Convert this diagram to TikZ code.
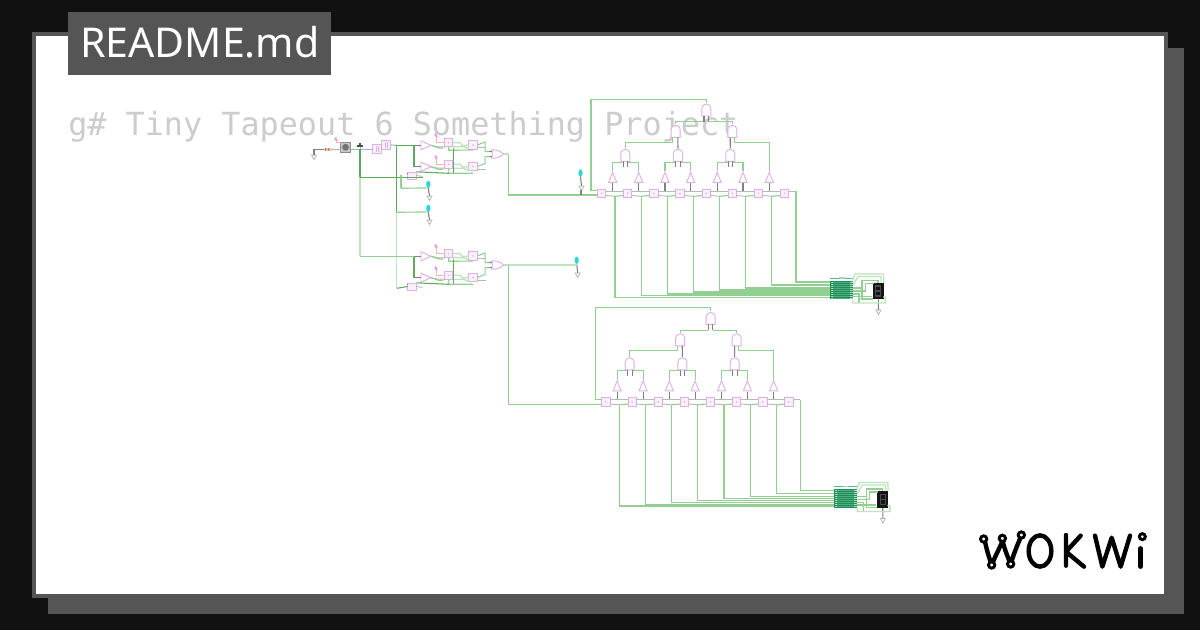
\documentclass[tikz,border=0pt]{standalone}
\usepackage{fontspec}
\newfontfamily\tabfont{Noto Sans}
\newfontfamily\monofont{DejaVu Sans Mono}
\usetikzlibrary{calc,shapes.geometric}
\definecolor{bgdark}{HTML}{111111}
\definecolor{panelgray}{HTML}{555555}
\definecolor{titlegray}{HTML}{CCCCCC}
\definecolor{wirecol}{HTML}{93CF93}
\definecolor{wirelight}{HTML}{BFE3BF}
\definecolor{wiredark}{HTML}{5FA85F}
\definecolor{wiregray}{HTML}{B8B8B8}
\definecolor{wiredgray}{HTML}{808080}
\definecolor{gatepink}{HTML}{E0B0E8}
\definecolor{dffpink}{HTML}{FBEFFC}
\definecolor{boardgreen}{HTML}{1B8F55}
\definecolor{ledcyan}{HTML}{2AD6D6}
\tikzset{
  wire/.style={draw=wirecol,line width=0.85pt},
  wirel/.style={draw=wirelight,line width=1.05pt},
  wired/.style={draw=wiredark,line width=0.8pt},
  wireg/.style={draw=wiregray,line width=0.7pt},
  wiredg/.style={draw=wiredgray,line width=0.8pt},
  redwire/.style={draw=red!30!white,line width=0.6pt},
  gateline/.style={draw=gatepink,line width=0.7pt,fill=white},
  anchorbox/.style={inner sep=0pt,outer sep=0pt,minimum width=#1},
  dffbox/.style={draw=gatepink,fill=dffpink,line width=0.6pt,inner sep=0pt,outer sep=0pt,minimum width=6pt,minimum height=6pt},
  bigdff/.style={dffbox,minimum width=6.2pt,minimum height=6.2pt},
  logoline/.style={draw=black,line width=3.3pt,line cap=round,line join=round},
  logodot/.style={draw=black,line width=2.2pt,fill=white},
}
% AND gate, apex up
\newcommand{\andg}[3]{%
  \node[anchorbox=6.75pt,minimum height=9pt] (#1) at (#2,#3) {};
  \begin{scope}[shift={(#2,#3)}]
    \path[gateline] (-4.5,6) -- (-4.5,-1) .. controls (-4.5,-4.5) and (-2,-6) .. (0,-6)
      .. controls (2,-6) and (4.5,-4.5) .. (4.5,-1) -- (4.5,6) -- cycle;
  \end{scope}}
% buffer, apex up
\newcommand{\bufu}[3]{%
  \node[anchorbox=6pt,minimum height=7.5pt] (#1) at (#2,#3) {};
  \begin{scope}[shift={(#2,#3)}]
    \path[gateline] (-4,5) -- (4,5) -- (0,-5) -- cycle;
  \end{scope}}
% buffer, apex right
\newcommand{\bufr}[3]{%
  \node[anchorbox=7.5pt,minimum height=6pt] (#1) at (#2,#3) {};
  \begin{scope}[shift={(#2,#3)}]
    \path[gateline] (-5,-4.5) -- (-5,4.5) -- (5,0) -- cycle;
  \end{scope}}
% OR gate, apex right
\newcommand{\org}[3]{%
  \node[anchorbox=9pt,minimum height=6.4pt] (#1) at (#2,#3) {};
  \begin{scope}[shift={(#2,#3)}]
    \path[gateline] (-6,-4.2) .. controls (-1,-4.5) and (3,-3) .. (6,0)
      .. controls (3,3) and (-1,4.5) .. (-6,4.2) .. controls (-4.5,1.5) and (-4.5,-1.5) .. (-6,-4.2) -- cycle;
  \end{scope}}
% flip-flop
\newcommand{\dffn}[3]{%
  \node[bigdff] (#1) at (#2,#3) {};
  \fill[gatepink] (#2,#3) circle (0.9);}
% ground symbol
\newcommand{\gnd}[3]{%
  \node[inner sep=0pt,outer sep=0pt,minimum size=3pt] (#1) at (#2,#3) {};
  \path[draw=wiregray,line width=0.6pt,fill=white] (#2-2.5,#3-2) -- (#2+2.5,#3-2) -- (#2,#3+2.5) -- cycle;}
% LED
\newcommand{\led}[3]{%
  \node[fill=ledcyan,draw=ledcyan!70!white,line width=0.2pt,ellipse,inner sep=0pt,outer sep=0pt,minimum width=3pt,minimum height=5.4pt] (#1) at (#2,#3) {};}
% probe
\newcommand{\probe}[3]{%
  \node[inner sep=0pt,outer sep=0pt,minimum size=2pt] (#1) at (#2,#3) {};
  \path[draw=violet!45!magenta!60!white,line width=0.45pt] (#2,#3-3) -- (#2,#3+1.5) (#2-1.5,#3-1.5) -- (#2+1.5,#3+0.5);}

% one half of the input logic
\newcommand{\logic}[2]{%
 \begin{scope}[shift={(0,#2)}]
  \bufr{#1ba}{426}{145.3}
  \bufr{#1bb}{426}{166.7}
  \dffn{#1p}{448.7}{142.7}
  \dffn{#1q}{448.7}{164.3}
  \dffn{#1r}{473}{145}
  \dffn{#1s}{473}{166.5}
  \org{#1o}{497.5}{154}
  \node[bigdff,minimum height=5.2pt,minimum width=6.5pt] (#1m) at (412,175.5) {};
  \probe{#1pa}{436}{136}
  \probe{#1pb}{436}{158}
  \coordinate (#1t) at (414,145.3);
  \coordinate (#1u) at (414,166.7);
  \coordinate (#1ml) at (449,173.3);
  \coordinate (#1v) at (453.7,173.3);
  \draw[wiredg] (#1t) -- (#1ba.west);
  \draw[wiredg] (#1u) -- (#1bb.west);
  \draw[wired] (#1t) -- (#1u);
  \draw[redwire] (#1pa.south) |- (#1p.west);
  \draw[redwire] (#1pb.south) |- (#1q.west);
  \draw[wireg] (#1ba.east) -- ++(7,1.5) -- ++(7,0);
  \draw[wire] (#1ba.east) -- ++(8,2.7) -- ++(4,0);
  \draw[wireg] (#1bb.east) -- ++(7,1.5) -- ++(7,0);
  \draw[wire] (#1bb.east) -- ++(8,2.7) -- ++(4,0);
  \draw[wirel] (#1p.east) -- ++(7,0) -- ++(3,3) -- (#1r.west);
  \draw[wirel] ([yshift=-3pt]#1p.east) -- ++(11,0) -- ++(3,1.5) -- ([yshift=-2pt]#1r.west);
  \draw[wirel] (#1q.east) -- ++(7,0) -- ++(3,3) -- (#1s.west);
  \draw[wirel] ([yshift=-3pt]#1q.east) -- ++(11,0) -- ++(3,1.5) -- ([yshift=-2pt]#1s.west);
  \draw[wire] (#1r.east) -- ++(8,-3) -- ++(0,9.5) -| ([yshift=2pt]#1o.west);
  \draw[wireg] ([yshift=-2.2pt]#1r.east) -- ++(9,0);
  \draw[wire] (#1s.east) -- ++(8,-3) |- ([yshift=-2pt]#1o.west);
  \draw[wireg] ([yshift=-2.2pt]#1s.east) -- ++(9,0);
  \draw[wiredg] ([yshift=2pt]#1o.west) -- ++(-3,0);
  \draw[wiredg] ([yshift=-2pt]#1o.west) -- ++(-3,0);
  \draw[wire] (#1p.south) -- ++(0,3.5) -- (473,150);
  \draw[wire] (#1q.south) -- (#1ml) -- (473,173.3);
  \draw[wired] (#1m.north east) ++(0,-0.2) -- (#1ml);
  \draw[wired] (453.7,148) -- (#1v);
  \draw[wiredg] (407,173.3) -- (#1m.west |- #1ml);
  \draw[wireg] (#1m.east) -- ++(6,1);
 \end{scope}}

% one 8-bit chain with its display
\newcommand{\chain}[3]{%
 \begin{scope}[shift={(#2,#3)}]
  \foreach \k in {0,...,7}{
    \pgfmathsetmacro{\xx}{601.5+26.15*\k}
    \dffn{#1d\k}{\xx}{193.4}
  }
  \foreach \k/\bx in {0/612.7,1/638.7,2/665,3/690.7,4/717.2,5/743,6/769.3}{
    \bufu{#1b\k}{\bx}{177.3}
    \coordinate (#1bs\k) at (\bx,191);
    \draw[wiredg] (#1b\k.south) ++(0,1) -- (#1bs\k);
  }
  \andg{#1ga}{625.3}{155.3}
  \andg{#1gb}{678}{155.3}
  \andg{#1gc}{730.3}{155.3}
  \andg{#1ha}{675.7}{131.3}
  \andg{#1hb}{732.3}{131.3}
  \andg{#1top}{706.3}{110}
  % buffers into first AND row
  \draw[wire] (#1b0.north) ++(0,-1) -- ++(0,-9) -- ++(9.4,0);
  \draw[wire] (#1b1.north) ++(0,-1) -- ++(0,-9) -- ++(-10.4,0);
  \draw[wire] (#1b2.north) ++(0,-1) -- ++(0,-9) -- ++(10.5,0);
  \draw[wire] (#1b3.north) ++(0,-1) -- ++(0,-9) -- ++(-10.2,0);
  \draw[wire] (#1b4.north) ++(0,-1) -- ++(0,-9) -- ++(10.6,0);
  \draw[wire] (#1b5.north) ++(0,-1) -- ++(0,-9) -- ++(-10.2,0);
  \foreach \g in {a,b,c}{
    \draw[wiredg] (#1g\g.south) ++(-2.2,0) -- ++(0,6);
    \draw[wiredg] (#1g\g.south) ++(2.4,0) -- ++(0,6);
  }
  % first AND row into second
  \coordinate (#1j1) at (672.8,142.4);
  \coordinate (#1j2) at (734.4,142.4);
  \draw[wire] (#1ga.north) ++(0,-1) |- (#1j1) -- (672.8,137.5);
  \draw[wiredg] (#1gb.north) ++(0,-1) -- ([xshift=1.6pt]#1ha.south);
  \draw[wiredg] (#1gc.north) ++(0,-1) -- (730.2,137.5);
  \draw[wire] (#1b6.north) ++(0,-1) |- (#1j2) -- (734.4,137.5);
  % second AND row into top
  \coordinate (#1j3) at (704,121.7);
  \coordinate (#1j4) at (708.4,121.7);
  \draw[wire] (#1ha.north) ++(0,-1) |- (#1j3);
  \draw[wire] (#1hb.north) ++(0,-1) |- (#1j4);
  \draw[wiredg] (#1j3) -- (704,116);
  \draw[wiredg] (#1j4) -- (708.4,116);
  % feedback
  \coordinate (#1f) at (591,99.3);
  \draw[wire] (#1top.north) ++(0,-1) |- (#1f) -- (591,190.7) -- (#1d0.west |- 0,190.7);
  % chain links and drops to decoder
  \foreach \k/\n in {0/1,1/2,2/3,3/4,4/5,5/6,6/7}{
    \pgfmathsetmacro{\dx}{601.5+26.15*\k+13.5}
    \coordinate (#1dr\k) at (\dx,196.3);
    \draw[wireg] (#1d\k.east) ++(0,-2.1) -- ($(#1d\n.west)+(0,-2.1)$);
    \draw[wireg] (#1d\k.east) ++(0,2.1) -- (#1dr\k);
    \draw[wire] (#1dr\k) -- ($(#1d\n.west)+(0,2.1)$);
  }
  \coordinate (#1dr7) at (796,191.3);
  \draw[wireg] (#1d7.east) ++(0,-2.1) -- (#1dr7);
  % decoder board
  \node[fill=boardgreen,inner sep=0pt,outer sep=0pt,minimum width=17.3pt,minimum height=14.2pt] (#1dec) at (841.5,290) {};
  \foreach \yy in {282,284,...,298}{
    \draw[draw=white,opacity=.25,line width=0.45pt] (831.5,\yy) -- (851.5,\yy);
    \draw[draw=white,opacity=.6,line width=0.5pt] (831,\yy) -- (833,\yy) (850,\yy) -- (852.5,\yy);
  }
  \draw[draw=boardgreen!70!white,line width=0.5pt] (830,278.2) -- (853,278.2);
  \fill[white!60!boardgreen] (839,277.4) rectangle (845,278.6);
  % display
  \node[fill=black!92!white,inner sep=0pt,outer sep=0pt,minimum width=8pt,minimum height=12.4pt] (#1disp) at (878.3,291) {};
  \draw[draw=white!30!black,line width=0.8pt,line join=round] (875.8,286) rectangle (880.8,296) (875.8,291) -- (880.8,291);
  \gnd{#1gr}{878.5}{312}
  \draw[wiredg] (#1disp.south) -- (#1gr.north);
  % wires from chain to decoder
  \foreach \k/\yy in {0/297.5,1/295.7,2/294,3/292,4/290,5/288,6/285,7/282}{
    \coordinate (#1pin\k) at (830,\yy);
    \draw[wire] (#1dr\k) |- (#1pin\k);
  }
  % decoder to display
  \coordinate (#1a1) at (855,274);
  \coordinate (#1a2) at (883.5,274);
  \coordinate (#1a3) at (858,276.5);
  \coordinate (#1a4) at (881,276.5);
  \coordinate (#1a5) at (862,280.5);
  \coordinate (#1a6) at (878,280.5);
  \coordinate (#1a7) at (865.5,283.5);
  \coordinate (#1a8) at (885.5,303);
  \coordinate (#1a9) at (853,303);
  \draw[wirel] (#1dec.north east) ++(0,-2) -- (853,279) -- (#1a1) -- (#1a2) -- (#1disp.north east);
  \draw[wirel] (853,285) -- (#1a3) -- (#1a4) -- (881,282.7);
  \draw[wire] (853,288) -- (#1a5 |- 0,288) -- (#1a5) -- (#1a6) -- (878,282.7);
  \draw[wire] (853,291) -- (#1a7 |- 0,291) -- (#1a7) -- (873.5,283.5);
  \draw[wire] (853,294) -- (859,294) -- (859,303);
  \draw[wire] (853,296.5) -- (872,296.5);
  \draw[wirel] (#1dec.south east) -- (#1a9) -- (#1a8) -- (885.5,297) -- (883,297);
  \draw[wire] (862,288) -- (862,299) -- (873,299);
 \end{scope}}

\begin{document}
\begin{tikzpicture}[x=0.75pt,y=-0.75pt]
  \useasboundingbox (0,0) rectangle (1200,630);
  \fill[bgdark] (0,0) rectangle (1200,630);
  \fill[panelgray] (48,48) rectangle (1184,614);
  \fill[panelgray] (32,32) rectangle (1168,598);
  \fill[white] (36,36) rectangle (1164,594);
  \fill[panelgray] (68,12) rectangle (331,75);
  \node[inner sep=0pt,anchor=base west,text=white,font=\tabfont\fontsize{30.8pt}{36pt}\selectfont] (tab) at (80,57.5) {README.md};
  \node[inner sep=0pt,anchor=base west,text=titlegray,font=\monofont\fontsize{23.85pt}{28pt}\selectfont] (title) at (68,135.5) {g\# Tiny Tapeout 6 Something Project};

  % ---- input section
  \logic{u}{0}
  \logic{l}{111}

  \gnd{g0}{314}{157}
  \node[fill=brown!40!white,inner sep=0pt,outer sep=0pt,minimum width=6pt,minimum height=2.2pt] (res) at (327.5,149.3) {};
  \fill[red!60!black!70!white] (325,148.3) rectangle (326,150.3) (328,148.3) rectangle (329,150.3);
  \node[fill=black!22,draw=black!45,line width=0.5pt,inner sep=0pt,outer sep=0pt,minimum size=7.5pt] (btn) at (345.6,147.3) {};
  \fill[black!55] (345.6,147.3) circle (3.4);
  \probe{pr0}{336}{140}
  \node[fill=black!70,inner sep=0pt,outer sep=0pt,minimum width=4.5pt,minimum height=2pt] (sw) at (360,146) {};
  \fill[black!70] (358.8,143) rectangle (361.2,145);
  \node[bigdff,minimum width=6.8pt,minimum height=6.8pt] (fa) at (377,149.3) {};
  \node[bigdff,minimum width=6.8pt,minimum height=6.8pt] (fb) at (386,145) {};
  \fill[gatepink] (376,146.5) rectangle (376.8,152) (378.2,146.5) rectangle (379,152) (385,142.2) rectangle (385.8,147.8) (387.2,142.2) rectangle (388,147.8);

  \coordinate (sj) at (360,149.3);
  \coordinate (tj) at (396.7,145.3);
  \coordinate (tk) at (396.7,212.3);
  \coordinate (tl) at (396.7,256.3);
  \coordinate (tm) at (360,256.3);
  \coordinate (to) at (360,177.3);
  \coordinate (tp) at (423,177.3);
  \coordinate (lq) at (396.7,288.3);
  \coordinate (lr) at (401,175.5);
  \coordinate (ls) at (401,188.3);

  \draw[wiredg] (g0.north) |- (res.west);
  \draw[wire] (res.east) -- (btn.west |- res.east);
  \draw[redwire] (pr0.south) |- (btn.north west);
  \draw[wire] (btn.east |- sj) -- (sj);
  \draw[draw=blue!35!white,line width=0.6pt] (sj) -- (fa.west);
  \draw[wireg] (sj) -- (sw.south);
  \draw[wireg] (fa.north east) -- (fb.south west);
  \draw[wire] (fb.east) -- (tj);
  \draw[wired] (tj) -- (ut);
  \draw[wired] (tj) -- (tk);
  \draw[wirel] (tk) -- (tl);
  \draw[wirel] (tl) -- (lq);
  \draw[wired] (lq) -- (lm.west);
  \draw[wired] (sj) -- (to);
  \draw[wirel] (to) -- (tm);
  \draw[wire] (tm) -- (lt);
  \draw[wired] (to) -- (tp);
  \draw[wire] (lr) -- (ls);

  % LEDs
  \led{la}{428.3}{184.3}
  \gnd{ga}{429.5}{198}
  \led{lb}{428.3}{208.3}
  \gnd{gb}{429.5}{222}
  \led{lc}{576.7}{260.3}
  \gnd{gc}{577.7}{275}
  \led{ld}{580.5}{173}
  \gnd{gd}{581.5}{188}
  \draw[wire] (ls) -- (la.south);
  \draw[wire] (tk) -- (lb.south);
  \draw[wiredg] (la.south) -- (ga.north);
  \draw[wiredg] (lb.south) -- (gb.north);
  \draw[wiredg] (lc.south) -- (gc.north);
  \draw[wiredg] (ld.south) -- (gd.north);

  % ---- chains
  \chain{a}{0}{0}
  \chain{b}{4.4}{208.5}

  % outputs of the input logic
  \coordinate (oa) at (508.3,154);
  \coordinate (ob) at (508.3,195);
  \coordinate (oc) at (508.3,265);
  \coordinate (od) at (508.3,404.5);
  \draw[wirel] (uo.east) -- (oa);
  \draw[wire] (oa) -- (ob) -- (581,195);
  \draw[wire] (581,195) -- (597.5,195) -- (ad0.west |- 0,195);
  \draw[wiredg] (581,190) -- (581,195);
  \draw[wirel] (lo.east) -- (oc) -- (lc.south |- oc);
  \draw[wire] (oc) -- (od) -- (bd0.west |- od);

  % ---- logo
  \begin{scope}[shift={(960,515)},x=0.25pt,y=-0.25pt]
    \draw[logoline] (76,84) .. controls (80,105) and (88,130) .. (95,150) .. controls (105,125) and (118,100) .. (128,78) .. controls (134,105) and (145,130) .. (152,147) .. controls (160,120) and (172,90) .. (184,62);
    \draw[logodot] (71,72) circle (9.5);
    \draw[logodot] (127,70) circle (9.5);
    \draw[logodot] (184,60) circle (9.5);
    \draw[logodot] (95,150) circle (9.5);
    \draw[logodot] (152,147) circle (9.5);
    \draw[logoline] (240,108) ellipse [x radius=34,y radius=47];
    \draw[logoline] (318,60) -- (318,152) (362,62) -- (318,110) -- (372,155);
    \draw[logoline] (405,62) -- (427,155) -- (455,68) -- (482,155) -- (510,62);
    \draw[logodot] (547,65) circle (9);
    \draw[logoline] (541,100) -- (541,155);
  \end{scope}
\end{tikzpicture}
\end{document}
